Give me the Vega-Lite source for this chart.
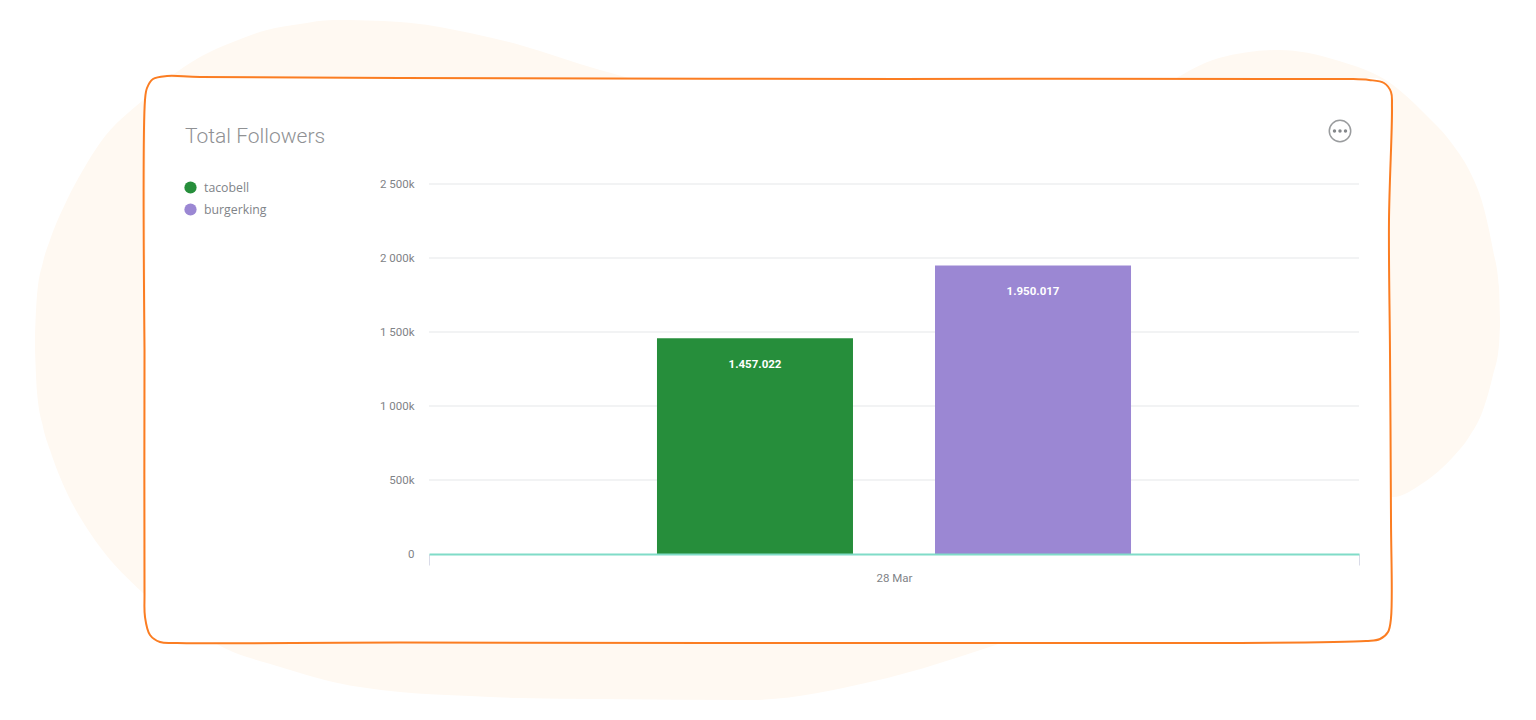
{
  "$schema": "https://vega.github.io/schema/vega-lite/v6.json",
  "autosize": {"type": "none"},
  "padding": {"left": 429, "top": 184, "right": 177, "bottom": 166},
  "width": 930,
  "height": 370,
  "background": "#ffffff",
  "config": {"view": {"stroke": null}},
  "datasets": {
    "followers": [
      {"date": "28 Mar", "account": "tacobell", "followers": 1457022, "label": "1.457.022"},
      {"date": "28 Mar", "account": "burgerking", "followers": 1950017, "label": "1.950.017"}
    ],
    "gridlines": [
      {"value": 500000},
      {"value": 1000000},
      {"value": 1500000},
      {"value": 2000000},
      {"value": 2500000}
    ],
    "blobLeft": [
      {"x": 35, "top": 335, "bottom": 350},
      {"x": 37, "top": 295, "bottom": 392},
      {"x": 43, "top": 262, "bottom": 427},
      {"x": 50, "top": 240, "bottom": 450},
      {"x": 67, "top": 200, "bottom": 493},
      {"x": 83, "top": 170, "bottom": 522},
      {"x": 100, "top": 143, "bottom": 547},
      {"x": 143, "top": 100, "bottom": 593},
      {"x": 170, "top": 77, "bottom": 617},
      {"x": 200, "top": 57, "bottom": 635},
      {"x": 233, "top": 42, "bottom": 652},
      {"x": 267, "top": 30, "bottom": 663},
      {"x": 300, "top": 24, "bottom": 673},
      {"x": 333, "top": 20, "bottom": 682},
      {"x": 400, "top": 22, "bottom": 692},
      {"x": 470, "top": 33, "bottom": 696},
      {"x": 520, "top": 45, "bottom": 698},
      {"x": 600, "top": 70, "bottom": 699},
      {"x": 750, "top": 100, "bottom": 700},
      {"x": 870, "top": 100, "bottom": 682},
      {"x": 1010, "top": 100, "bottom": 640}
    ],
    "blobRight": [
      {"x": 1170, "top": 82, "bottom": 90},
      {"x": 1219, "top": 58, "bottom": 300},
      {"x": 1279, "top": 50, "bottom": 400},
      {"x": 1336, "top": 60, "bottom": 470},
      {"x": 1393, "top": 85, "bottom": 497},
      {"x": 1423, "top": 112, "bottom": 483},
      {"x": 1453, "top": 145, "bottom": 457},
      {"x": 1469, "top": 170, "bottom": 437},
      {"x": 1483, "top": 205, "bottom": 410},
      {"x": 1493, "top": 250, "bottom": 375},
      {"x": 1499, "top": 287, "bottom": 345},
      {"x": 1500, "top": 320, "bottom": 325}
    ],
    "card": [{"x": 146, "x2": 1390, "y": 78, "y2": 642}],
    "outline": [
      {"i": 1, "x": 144.5, "y": 350},
      {"i": 2, "x": 145, "y": 100},
      {"i": 3, "x": 147, "y": 88},
      {"i": 4, "x": 153, "y": 79},
      {"i": 5, "x": 167, "y": 76},
      {"i": 6, "x": 200, "y": 77},
      {"i": 7, "x": 400, "y": 78},
      {"i": 8, "x": 900, "y": 79},
      {"i": 9, "x": 1349, "y": 79},
      {"i": 10, "x": 1369, "y": 80},
      {"i": 11, "x": 1384, "y": 83},
      {"i": 12, "x": 1391, "y": 92},
      {"i": 13, "x": 1392, "y": 107},
      {"i": 14, "x": 1389, "y": 220},
      {"i": 15, "x": 1390, "y": 353},
      {"i": 16, "x": 1391, "y": 520},
      {"i": 17, "x": 1391, "y": 618},
      {"i": 18, "x": 1388, "y": 632},
      {"i": 19, "x": 1380, "y": 639},
      {"i": 20, "x": 1366, "y": 641},
      {"i": 21, "x": 900, "y": 643},
      {"i": 22, "x": 400, "y": 642.5},
      {"i": 23, "x": 177, "y": 643},
      {"i": 24, "x": 160, "y": 642},
      {"i": 25, "x": 150, "y": 635},
      {"i": 26, "x": 145, "y": 617},
      {"i": 27, "x": 144.5, "y": 593},
      {"i": 28, "x": 144.5, "y": 350}
    ],
    "menuRing": [{"x": 1340, "y": 131}],
    "menuDots": [
      {"x": 1334.5, "y": 131},
      {"x": 1340, "y": 131},
      {"x": 1345.5, "y": 131}
    ],
    "heading": [{"x": 185, "y": 143, "text": "Total Followers"}]
  },
  "layer": [
    {
      "data": {"name": "blobLeft"},
      "mark": {"type": "area", "interpolate": "monotone", "color": "#fff9f2"},
      "encoding": {
        "x": {"field": "x", "type": "quantitative", "scale": {"domain": [429, 1359], "nice": false, "zero": false}, "axis": null},
        "y": {"field": "top", "type": "quantitative", "scale": {"domain": [554, 184], "nice": false, "zero": false}, "axis": null},
        "y2": {"field": "bottom"}
      }
    },
    {
      "data": {"name": "blobRight"},
      "mark": {"type": "area", "interpolate": "monotone", "color": "#fff9f2"},
      "encoding": {
        "x": {"field": "x", "type": "quantitative", "scale": {"domain": [429, 1359], "nice": false, "zero": false}, "axis": null},
        "y": {"field": "top", "type": "quantitative", "scale": {"domain": [554, 184], "nice": false, "zero": false}, "axis": null},
        "y2": {"field": "bottom"}
      }
    },
    {
      "data": {"name": "card"},
      "mark": {"type": "rect", "color": "#ffffff", "cornerRadius": 16},
      "encoding": {
        "x": {"field": "x", "type": "quantitative", "scale": {"domain": [429, 1359], "nice": false, "zero": false}, "axis": null},
        "x2": {"field": "x2"},
        "y": {"field": "y", "type": "quantitative", "scale": {"domain": [554, 184], "nice": false, "zero": false}, "axis": null},
        "y2": {"field": "y2"}
      }
    },
    {
      "data": {"name": "outline"},
      "mark": {"type": "line", "interpolate": "catmull-rom", "color": "#fb7d22", "strokeWidth": 2},
      "encoding": {
        "x": {"field": "x", "type": "quantitative", "scale": {"domain": [429, 1359], "nice": false, "zero": false}, "axis": null},
        "y": {"field": "y", "type": "quantitative", "scale": {"domain": [554, 184], "nice": false, "zero": false}, "axis": null},
        "order": {"field": "i", "type": "quantitative"}
      }
    },
    {
      "data": {"name": "heading"},
      "mark": {"type": "text", "align": "left", "baseline": "alphabetic", "font": "Roboto", "fontSize": 21, "fontWeight": 300, "color": "#8f9194"},
      "encoding": {
        "x": {"field": "x", "type": "quantitative", "scale": {"domain": [429, 1359], "nice": false, "zero": false}, "axis": null},
        "y": {"field": "y", "type": "quantitative", "scale": {"domain": [554, 184], "nice": false, "zero": false}, "axis": null},
        "text": {"field": "text", "type": "nominal"}
      }
    },
    {
      "data": {"name": "menuRing"},
      "mark": {"type": "point", "shape": "circle", "filled": false, "size": 460, "color": "#9a9c9e", "strokeWidth": 1.5, "opacity": 1},
      "encoding": {
        "x": {"field": "x", "type": "quantitative", "scale": {"domain": [429, 1359], "nice": false, "zero": false}, "axis": null},
        "y": {"field": "y", "type": "quantitative", "scale": {"domain": [554, 184], "nice": false, "zero": false}, "axis": null}
      }
    },
    {
      "data": {"name": "menuDots"},
      "mark": {"type": "point", "shape": "circle", "filled": true, "size": 12, "color": "#85888b", "opacity": 1},
      "encoding": {
        "x": {"field": "x", "type": "quantitative", "scale": {"domain": [429, 1359], "nice": false, "zero": false}, "axis": null},
        "y": {"field": "y", "type": "quantitative", "scale": {"domain": [554, 184], "nice": false, "zero": false}, "axis": null}
      }
    },
    {
      "data": {"name": "gridlines"},
      "mark": {"type": "rule", "color": "#eeeff1", "strokeWidth": 1.5},
      "encoding": {
        "y": {"field": "value", "type": "quantitative", "scale": {"domain": [0, 2500000], "nice": false}, "axis": null}
      }
    },
    {
      "data": {"name": "followers"},
      "mark": {"type": "bar"},
      "encoding": {
        "x": {
          "field": "date",
          "type": "nominal",
          "scale": {"paddingInner": 0, "paddingOuter": 0},
          "axis": {
            "title": null,
            "labelAngle": 0,
            "tickBand": "extent",
            "tickSize": 11,
            "tickColor": "#d9dbe8",
            "domainColor": "#80dcc8",
            "domainWidth": 2,
            "labelFont": "Roboto",
            "labelFontSize": 11.5,
            "labelColor": "#7f8387",
            "labelPadding": 7,
            "zindex": 1
          }
        },
        "xOffset": {
          "field": "account",
          "type": "nominal",
          "sort": ["tacobell", "burgerking"],
          "scale": {"paddingInner": 0.295, "paddingOuter": 0.82}
        },
        "y": {
          "field": "followers",
          "type": "quantitative",
          "scale": {"domain": [0, 2500000], "nice": false},
          "axis": {
            "title": null,
            "values": [0, 500000, 1000000, 1500000, 2000000, 2500000],
            "grid": false,
            "domain": false,
            "ticks": false,
            "labelExpr": "datum.value == 0 ? '0' : datum.value >= 1000000 ? floor(datum.value / 1000000) + ' ' + format((datum.value % 1000000) / 1000, '03d') + 'k' : (datum.value / 1000) + 'k'",
            "labelFont": "Roboto",
            "labelFontSize": 11.5,
            "labelColor": "#7f8387",
            "labelPadding": 15,
            "zindex": 1
          }
        },
        "color": {
          "field": "account",
          "type": "nominal",
          "sort": ["tacobell", "burgerking"],
          "scale": {"domain": ["tacobell", "burgerking"], "range": ["#268e3b", "#9b87d3"]},
          "legend": {
            "orient": "none",
            "legendX": -245,
            "legendY": -3,
            "title": null,
            "symbolType": "circle",
            "symbolSize": 150,
            "symbolStrokeWidth": 0,
            "symbolOpacity": 1,
            "labelFont": "Open Sans",
            "labelFontSize": 12.3,
            "labelColor": "#7f8489",
            "labelOffset": 7,
            "rowPadding": 9,
            "zindex": 1
          }
        }
      }
    },
    {
      "data": {"name": "followers"},
      "mark": {"type": "text", "baseline": "middle", "dy": 27, "color": "#ffffff", "font": "Roboto", "fontSize": 11.5, "fontWeight": "bold"},
      "encoding": {
        "x": {"field": "date", "type": "nominal", "scale": {"paddingInner": 0, "paddingOuter": 0}, "axis": null},
        "xOffset": {
          "field": "account",
          "type": "nominal",
          "sort": ["tacobell", "burgerking"],
          "scale": {"type": "band", "paddingInner": 0.295, "paddingOuter": 0.82}
        },
        "y": {"field": "followers", "type": "quantitative", "scale": {"domain": [0, 2500000], "nice": false}, "axis": null},
        "text": {"field": "label", "type": "nominal"}
      }
    }
  ],
  "resolve": {
    "scale": {"x": "independent", "y": "independent", "xOffset": "independent"},
    "axis": {"x": "independent", "y": "independent"}
  }
}
